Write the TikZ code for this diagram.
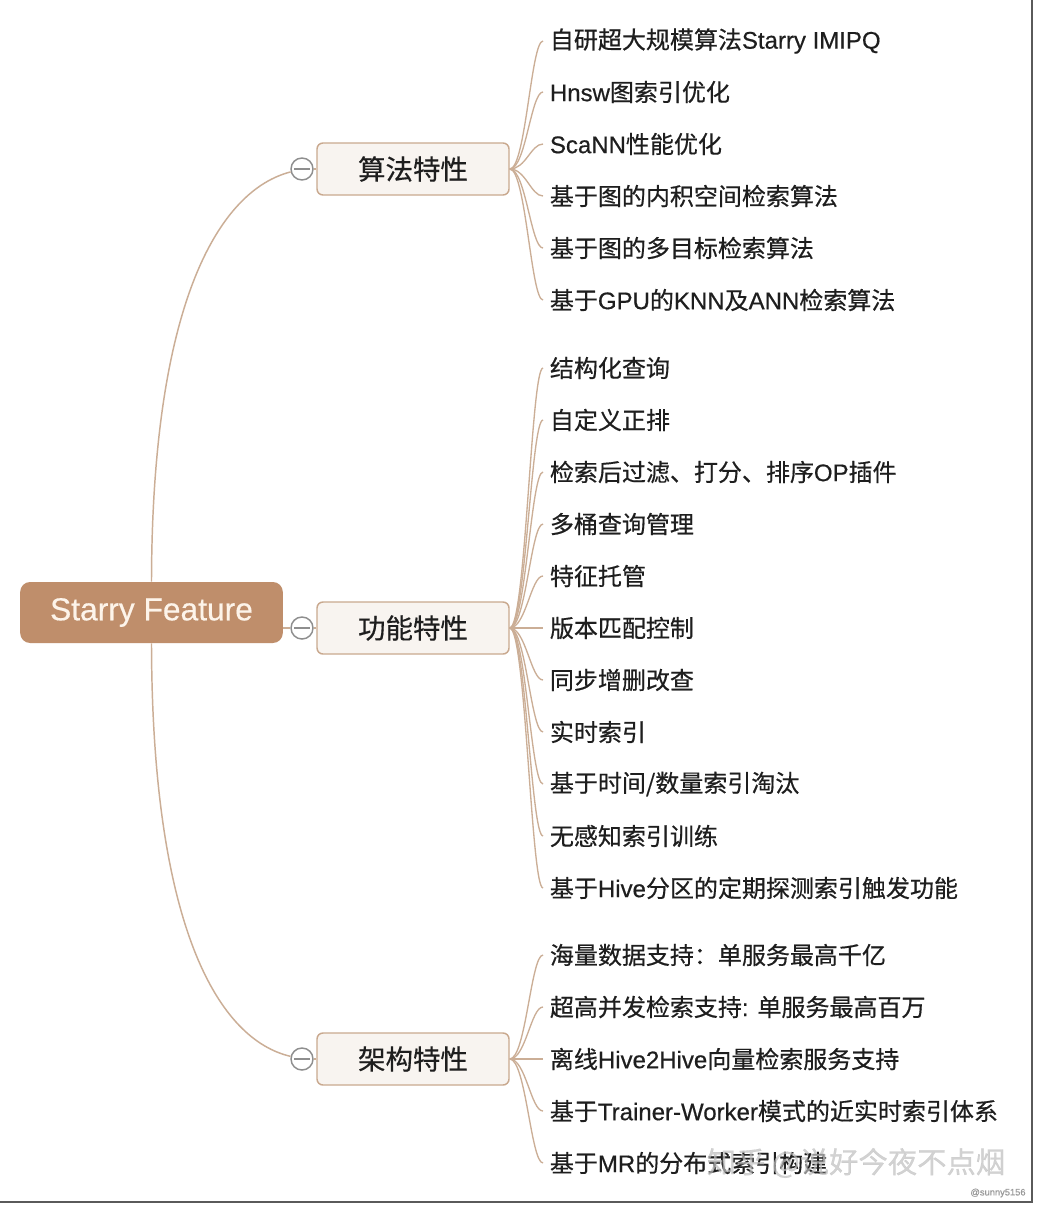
\documentclass[tikz,border=0pt]{standalone}
\usepackage{fontspec}
\setmainfont{Liberation Sans}[FakeBold=0.5]
\newfontfamily\cjk{Noto Sans CJK SC}[FakeBold=0.5]
\newcommand\C[1]{{\cjk #1}}
\definecolor{rootc}{HTML}{BF8E6B}
\definecolor{roottext}{HTML}{FDF4EA}
\definecolor{brfill}{HTML}{F8F4F0}
\definecolor{brline}{HTML}{C9A98F}
\definecolor{linkc}{HTML}{CBAE96}
\definecolor{togc}{HTML}{8E8E8E}
\definecolor{textc}{HTML}{1E1E1E}
\definecolor{framec}{HTML}{5A5A5A}
\begin{document}
\begin{tikzpicture}[x=0.75pt,y=-0.75pt,
  rootbox/.style={fill=rootc, rounded corners=7.5pt, minimum width=197pt, minimum height=45.75pt,
    text=roottext, inner sep=0pt, font=\fontsize{23.8}{28}\selectfont},
  branchbox/.style={draw=brline, line width=1.1pt, fill=brfill, rounded corners=4.5pt,
    minimum width=144pt, minimum height=39pt, inner sep=0pt, text=textc,
    font=\cjk\fontsize{20.6}{24}\selectfont},
  leaf/.style={anchor=west, inner xsep=5pt, inner ysep=1pt, text=textc,
    font=\fontsize{18}{22}\selectfont},
  toggle/.style={circle, draw=togc, fill=white, line width=1.1pt, minimum size=16.5pt, inner sep=0pt},
  link/.style={draw=linkc, line width=1.1pt},
  leaflink/.style={draw=linkc, line width=1pt}
]
\useasboundingbox (0,0) rectangle (1038,1206);
\fill[white] (0,0) rectangle (1038,1206);

% root
\node[rootbox] (root) at (151.5,612.5) {Starry Feature};

% toggles and branches
\node[toggle] (t1) at (302,169) {};
\node[toggle] (t2) at (302,628) {};
\node[toggle] (t3) at (302,1059) {};
\foreach \t in {t1,t2,t3}{
  \draw[togc, line width=1.1pt] ([xshift=3pt]\t.west) -- ([xshift=-3pt]\t.east);
}
\node[branchbox] (b1) at (413,169) {算法特性};
\node[branchbox] (b2) at (413,628) {功能特性};
\node[branchbox] (b3) at (413,1059) {架构特性};

% root links
\draw[link] (root.north) .. controls (152,300) and (220,190) .. (t1);
\draw[link] (root.south) .. controls (152,931) and (220,1040) .. (t3);
\draw[link] (root.east |- t2) -- (t2);
\draw[link] (t1) -- (b1);
\draw[link] (t2) -- (b2);
\draw[link] (t3) -- (b3);

% leaves: branch 1
\node[leaf] (a1) at (543,41) {\C{自研超大规模算法}Starry IMIPQ};
\node[leaf] (a2) at (543,92) {Hnsw\C{图索引优化}};
\node[leaf] (a3) at (543,144) {ScaNN\C{性能优化}};
\node[leaf] (a4) at (543,196) {\C{基于图的内积空间检索算法}};
\node[leaf] (a5) at (543,248) {\C{基于图的多目标检索算法}};
\node[leaf] (a6) at (543,300) {\C{基于}GPU\C{的}KNN\C{及}ANN\C{检索算法}};
\foreach \l in {a1,a2,a3,a4,a5,a6}{
  \draw[leaflink] (b1.east) .. controls +(16,0) and +(-12,0) .. (\l.west);
}

% leaves: branch 2
\node[leaf] (f1) at (543,368) {\C{结构化查询}};
\node[leaf] (f2) at (543,420) {\C{自定义正排}};
\node[leaf] (f3) at (543,472) {\C{检索后过滤、打分、排序}OP\C{插件}};
\node[leaf] (f4) at (543,524) {\C{多桶查询管理}};
\node[leaf] (f5) at (543,576) {\C{特征托管}};
\node[leaf] (f6) at (543,628) {\C{版本匹配控制}};
\node[leaf] (f7) at (543,680) {\C{同步增删改查}};
\node[leaf] (f8) at (543,732) {\C{实时索引}};
\node[leaf] (f9) at (543,784) {\C{基于时间/数量索引淘汰}};
\node[leaf] (f10) at (543,836) {\C{无感知索引训练}};
\node[leaf] (f11) at (543,888) {\C{基于}Hive\C{分区的定期探测索引触发功能}};
\foreach \l in {f1,f2,f3,f4,f5,f6,f7,f8,f9,f10,f11}{
  \draw[leaflink] (b2.east) .. controls +(16,0) and +(-12,0) .. (\l.west);
}

% leaves: branch 3
\node[leaf] (s1) at (543,955) {\C{海量数据支持：单服务最高千亿}};
\node[leaf] (s2) at (543,1007) {\C{超高并发检索支持}: \C{单服务最高百万}};
\node[leaf] (s3) at (543,1059) {\C{离线}Hive2Hive\C{向量检索服务支持}};
\node[leaf] (s4) at (543,1111) {\C{基于}Trainer-Worker\C{模式的近实时索引体系}};
\node[leaf] (s5) at (543,1163) {\C{基于}MR\C{的分布式索引构建}};
\foreach \l in {s1,s2,s3,s4,s5}{
  \draw[leaflink] (b3.east) .. controls +(16,0) and +(-12,0) .. (\l.west);
}

% watermark
\node[text=gray!50, text opacity=0.7, font=\cjk\fontsize{22}{26}\selectfont, inner sep=0pt] (wm) at (856,1163) {知乎 @说好今夜不点烟};
\node[text=gray!80, font=\fontsize{7}{8}\selectfont, inner sep=0pt] (sig) at (998,1193) {@sunny5156};

% frame shadow
\draw[framec, line width=2.2pt] (1032,0) -- (1032,1202) -- (0,1202);
\end{tikzpicture}
\end{document}
